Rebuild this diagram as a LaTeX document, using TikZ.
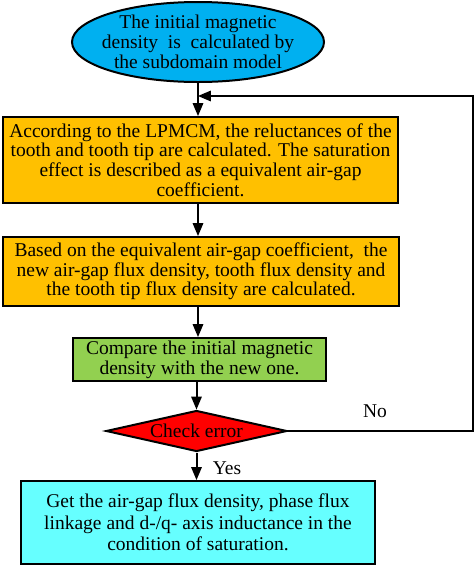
\documentclass[tikz,border=0pt]{standalone}
\usepackage{fontspec}
\setmainfont{Liberation Serif}
\usetikzlibrary{arrows,shapes.geometric}

\definecolor{startblue}{RGB}{0,176,240}
\definecolor{stepgold}{RGB}{255,192,0}
\definecolor{stepgreen}{RGB}{146,208,80}
\definecolor{checkred}{RGB}{255,0,0}
\definecolor{endcyan}{RGB}{102,255,255}

\tikzset{
  flowtext/.style={align=center, inner sep=1pt, font=\fontsize{19.5}{19.7}\selectfont},
  flowbox/.style={flowtext, draw, line width=2pt},
  flowline/.style={->, line width=2pt}
}

\begin{document}
\begin{tikzpicture}[x=1pt, y=-1pt, >=triangle 45]
\useasboundingbox (0,0) rectangle (474,566);
% start
\node[flowbox, ellipse, fill=startblue, inner sep=0pt, minimum width=252, minimum height=80] (init) at (198,42) {};
\node[flowtext] (initText) at (init.center)
  {The initial magnetic\\density~ is~ calculated by\\the subdomain model};
% loop steps
\node[flowbox, fill=stepgold, minimum width=395, minimum height=86] (reluct) at (200.5,160)
  {According to the LPMCM, the reluctances of the\\tooth and tooth tip are calculated. The saturation\\effect is described as a equivalent air-gap\\coefficient.};
\node[flowbox, fill=stepgold, minimum width=396, minimum height=69] (flux) at (201,271.5)
  {Based on the equivalent air-gap coefficient,~ the\\new air-gap flux density, tooth flux density and\\the tooth tip flux density are calculated.};
\node[flowbox, fill=stepgreen, minimum width=253, minimum height=43] (compare) at (199.5,359.5)
  {Compare the initial magnetic\\density with the new one.};
\node[flowbox, diamond, fill=checkred, inner sep=0pt, shape aspect=4.4, minimum width=181, minimum height=41] (check) at (196.5,431)
  {Check error};
% result
\node[flowbox, fill=endcyan, minimum width=354, minimum height=83, font=\fontsize{19.5}{21.7}\selectfont] (result) at (198,522.5)
  {Get the air-gap flux density, phase flux\\linkage and d-/q- axis inductance in the\\condition of saturation.};
\coordinate (join) at (198,96);
% connectors
\draw[flowline] (init.south) -- (init.south |- reluct.north);
\draw[flowline] (init.south |- reluct.south) -- (init.south |- flux.north);
\draw[flowline] (init.south |- flux.south) -- (init.south |- compare.north);
\draw[flowline] (compare.south -| check.north) -- (check.north);
\draw[flowline] (check.south) -- (check.south |- result.north);
\draw[flowline] (check.east) -- ++(185,0) |- (join);
\node[flowtext] (no) at (375,411) {No};
\node[flowtext] (yes) at (227,468) {Yes};
\end{tikzpicture}
\end{document}
